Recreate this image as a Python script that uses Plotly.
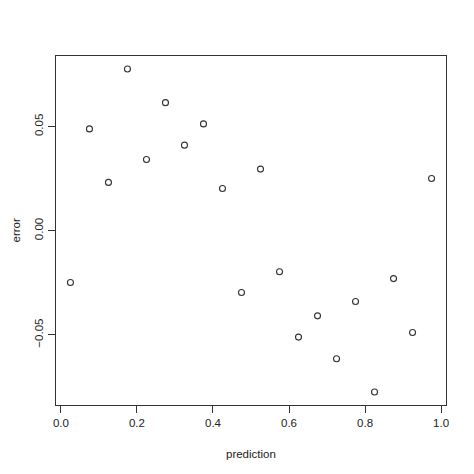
import plotly.graph_objects as go

prediction = [0.025, 0.075, 0.125, 0.175, 0.225, 0.275, 0.325, 0.375, 0.425, 0.475,
              0.525, 0.575, 0.625, 0.675, 0.725, 0.775, 0.825, 0.875, 0.925, 0.975]
error = [-0.0249, 0.0489, 0.0232, 0.0777, 0.0342, 0.0615, 0.0411, 0.0513, 0.0203, -0.0297,
         0.0296, -0.0197, -0.0511, -0.0409, -0.0615, -0.0340, -0.0775, -0.0230, -0.0489, 0.0251]

x_ticks = [0.0, 0.2, 0.4, 0.6, 0.8, 1.0]
x_tick_labels = ["0.0", "0.2", "0.4", "0.6", "0.8", "1.0"]
y_ticks = [-0.05, 0.0, 0.05]
y_tick_labels = ["\u22120.05", "0.00", "0.05"]

ink = "#333333"
font = dict(family="Liberation Sans, Arial, Helvetica, sans-serif", size=11.5, color="#222222")

fig = go.Figure(go.Scatter(
    x=prediction, y=error, mode="markers",
    marker=dict(symbol="circle-open", size=6, color=ink, line=dict(width=1.1, color=ink)),
    showlegend=False, hoverinfo="skip"))

def padded(vals):
    lo, hi = min(vals), max(vals)
    d = (hi - lo) * 0.04
    return [lo - d, hi + d]

fig.update_layout(
    width=474, height=474,
    margin=dict(l=48, r=36, t=48, b=77),
    paper_bgcolor="white", plot_bgcolor="white",
    font=font,
    xaxis=dict(range=padded(prediction), tickvals=x_ticks, ticktext=x_tick_labels,
               showgrid=False, zeroline=False, showline=True, mirror=True,
               linecolor=ink, linewidth=1, ticks="outside", ticklen=7, tickwidth=1,
               tickcolor=ink, tickfont=font),
    yaxis=dict(range=padded(error), tickvals=y_ticks, ticktext=y_tick_labels,
               showgrid=False, zeroline=False, showline=True, mirror=True,
               linecolor=ink, linewidth=1, ticks="outside", ticklen=7, tickwidth=1,
               tickcolor=ink, tickangle=-90, tickfont=font),
    annotations=[
        dict(text="prediction", xref="paper", yref="paper", x=0.5, y=0,
             yshift=-49, showarrow=False, font=font, xanchor="center", yanchor="middle"),
        dict(text="error", xref="paper", yref="paper", x=0, y=0.5,
             xshift=-41, showarrow=False, font=font, textangle=-90,
             xanchor="center", yanchor="middle"),
    ],
)

fig.write_html("out.html")
